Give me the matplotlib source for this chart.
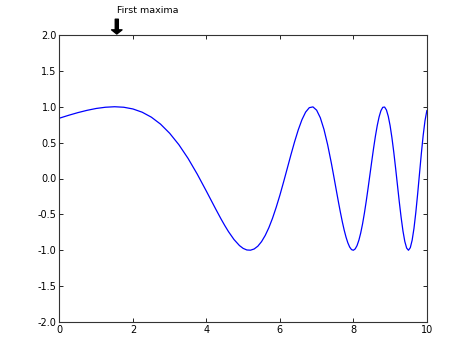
import numpy as np
import matplotlib
matplotlib.use("Agg")
import matplotlib.pyplot as plt

plt.rcParams["axes.unicode_minus"] = False

x_vals = [0.0, 0.25, 0.5, 0.75, 1.0, 1.25, 1.5, 1.75, 2.0, 2.25, 2.5, 2.75,
          3.0, 3.25, 3.5, 3.75, 4.0, 4.25, 4.4, 4.5, 4.6, 4.75, 4.9, 5.0,
          5.1, 5.2, 5.3, 5.4, 5.5, 5.6, 5.7, 5.8, 5.9, 6.0,
          6.1, 6.2, 6.3, 6.4, 6.5, 6.6, 6.7, 6.8, 6.9, 7.0,
          7.1, 7.2, 7.3, 7.4, 7.45, 7.5, 7.55, 7.6, 7.65, 7.7, 7.75, 7.8, 7.85, 7.9, 7.95, 8.0,
          8.05, 8.1, 8.15, 8.2, 8.25, 8.3, 8.35, 8.4, 8.45, 8.5,
          8.55, 8.6, 8.65, 8.7, 8.75, 8.8, 8.85, 8.9, 8.95, 9.0,
          9.05, 9.1, 9.15, 9.2, 9.25, 9.3, 9.35, 9.4, 9.45, 9.5,
          9.55, 9.6, 9.65, 9.7, 9.75, 9.8, 9.85, 9.9, 9.95, 10.0]
y_vals = [0.841, 0.881, 0.918, 0.950, 0.976, 0.993, 1.000, 0.993, 0.969, 0.924, 0.855, 0.758,
          0.630, 0.471, 0.280, 0.061, -0.178, -0.423, -0.566, -0.656, -0.740, -0.850, -0.935, -0.974,
          -0.996, -0.999, -0.982, -0.943, -0.880, -0.794, -0.685, -0.553, -0.400, -0.232,
          -0.049, 0.140, 0.330, 0.512, 0.678, 0.819, 0.925, 0.987, 0.998, 0.952,
          0.847, 0.684, 0.470, 0.216, 0.078, -0.063, -0.205, -0.345, -0.479, -0.605, -0.719,
          -0.817, -0.897, -0.956, -0.991, -1.000,
          -0.981, -0.935, -0.860, -0.759, -0.633, -0.484, -0.317, -0.137, 0.050, 0.238,
          0.421, 0.590, 0.738, 0.858, 0.945, 0.992, 0.996, 0.955, 0.867, 0.737,
          0.567, 0.367, 0.143, -0.092, -0.325, -0.542, -0.731, -0.877, -0.969, -1.000,
          -0.964, -0.860, -0.694, -0.473, -0.214, 0.066, 0.345, 0.599, 0.806, 0.945]

x_ticks = [0, 2, 4, 6, 8, 10]
y_ticks = [-2.0, -1.5, -1.0, -0.5, 0.0, 0.5, 1.0, 1.5, 2.0]

fig = plt.figure(figsize=(4.74, 3.57), dpi=100)
ax = fig.add_axes([0.1255, 0.098, 0.775, 0.804])

ax.plot(x_vals, y_vals, color="blue", linewidth=0.9)

ax.set_xlim(0, 10)
ax.set_ylim(-2, 2)
ax.set_xticks(x_ticks)
ax.set_yticks(y_ticks)
ax.set_yticklabels(["%.1f" % v for v in y_ticks])
ax.tick_params(direction="in", top=True, right=True, length=3, width=0.6,
               labelsize=7, pad=2)
for s in ax.spines.values():
    s.set_linewidth(0.8)
    s.set_color("#333333")

ax.annotate("First maxima", xy=(1.56, 2.0), xytext=(1.56, 2.3),
            fontsize=6.8, annotation_clip=False,
            arrowprops=dict(facecolor="black", width=2.2, headwidth=7.5,
                            headlength=3, shrink=0.05))

fig.savefig("out.png", dpi=100)
